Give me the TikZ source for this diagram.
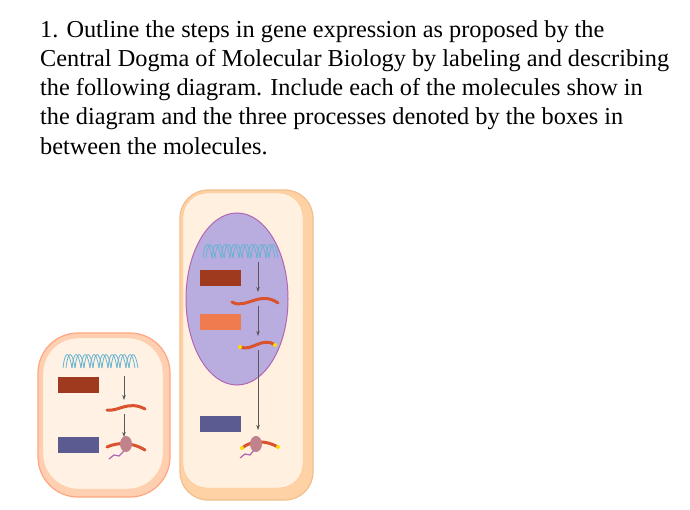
\documentclass[tikz,border=0pt]{standalone}
\usepackage{fontspec}
\setmainfont{Liberation Serif}
\usetikzlibrary{shapes.geometric,arrows.meta}
\definecolor{rdark}{HTML}{A03A1E}
\definecolor{rorange}{HTML}{EF7B4F}
\definecolor{bluebox}{HTML}{5B5A91}
\definecolor{mrnac}{HTML}{D9532F}
\definecolor{nucfill}{HTML}{B9ADE0}
\begin{document}
\begin{tikzpicture}[x=1pt,y=-1pt,
  cellouter/.style={draw=orange!60!brown!50, line width=1.2pt, fill=orange!35!white},
  cellinner/.style={draw=orange!50!white, fill=orange!12!white},
  pcellouter/.style={draw=red!40!orange!50, line width=1.2pt, fill=red!25!orange!30!white},
  mrna/.style={draw=mrnac, line width=3pt, line cap=round},
  helix/.style={draw=cyan!50!teal!70, line width=0.8pt},
  flow/.style={draw=gray!70!black, line width=0.6pt, -{Stealth[length=5pt,width=3.5pt]}},
  stepbox/.style={draw=none, minimum width=41pt, minimum height=16pt, inner sep=0pt}]
\useasboundingbox (0,0) rectangle (690,510);
\node[anchor=north west, align=left, font=\fontsize{24.3}{29.3}\selectfont, inner sep=0pt] (q) at (40,20)
{1. Outline the steps in gene expression as proposed by the\\
Central Dogma of Molecular Biology by labeling and describing\\
the following diagram. Include each of the molecules show in\\
the diagram and the three processes denoted by the boxes in\\
between the molecules.};
% eukaryotic cell
\path[cellouter, rounded corners=28pt] (180,190) rectangle (313,500);
\path[cellinner, rounded corners=24pt] (183,193) rectangle (303,488);
\node[ellipse, draw=violet!60, line width=1pt, fill=nucfill, minimum width=102pt, minimum height=172pt] (nuc) at (237,299) {};
\foreach \i in {0,...,7}{
  \draw[helix] (203+9*\i,258) .. controls (205+9*\i,240) and (209+9*\i,240) .. (212+9*\i,258);
  \draw[helix] (206+9*\i,258) .. controls (208+9*\i,240) and (212+9*\i,240) .. (215+9*\i,258);}
\node[stepbox, fill=rdark] (e1) at (220,278) {};
\node[stepbox, fill=rorange] (e2) at (220,322) {};
\node[stepbox, fill=bluebox] (e3) at (220,424) {};
\coordinate (a1) at (258,262); \coordinate (b1) at (258,292);
\coordinate (a2) at (258,306); \coordinate (b2) at (258,336);
\coordinate (a3) at (258,350); \coordinate (b3) at (258,430);
\draw[flow] (a1) -- (b1); \draw[flow] (a2) -- (b2); \draw[flow] (a3) -- (b3);
\draw[mrna] (232,302) .. controls (245,310) and (260,290) .. (278,303);
\draw[mrna] (240,347) .. controls (252,352) and (262,336) .. (275,345);
\fill[yellow!80!orange] (240,347) circle (2pt) (275,345) circle (2pt);
\draw[mrna] (242,448) .. controls (252,440) and (265,440) .. (278,447);
\fill[yellow!80!orange] (242,448) circle (2pt) (278,447) circle (2pt);
\fill[brown!60!violet!70] (256,444) ellipse (6pt and 8pt);
\draw[violet!60, line width=1.2pt] (254,450) -- (250,455) -- (245,454) -- (240,458);
% prokaryotic cell
\path[pcellouter, rounded corners=40pt] (38,333) rectangle (170,497);
\path[draw=orange!40!white, fill=orange!10!white, rounded corners=35pt] (43,338) rectangle (163,489);
\foreach \i in {0,...,7}{
  \draw[helix] (63+9*\i,368) .. controls (65+9*\i,350) and (69+9*\i,350) .. (72+9*\i,368);
  \draw[helix] (66+9*\i,368) .. controls (68+9*\i,350) and (72+9*\i,350) .. (75+9*\i,368);}
\node[stepbox, fill=rdark] (p1) at (78,385) {};
\node[stepbox, fill=bluebox] (p2) at (78,445) {};
\coordinate (c1) at (124,376); \coordinate (d1) at (124,400);
\coordinate (c2) at (124,414); \coordinate (d2) at (124,437);
\draw[flow] (c1) -- (d1); \draw[flow] (c2) -- (d2);
\draw[mrna] (107,410) .. controls (118,412) and (128,400) .. (145,409);
\draw[mrna] (107,447) .. controls (118,442) and (132,442) .. (145,450);
\fill[brown!60!violet!70] (126,444) ellipse (6pt and 8pt);
\draw[violet!60, line width=1.2pt] (124,451) -- (119,456) -- (114,455) -- (109,459);
\end{tikzpicture}
\end{document}
